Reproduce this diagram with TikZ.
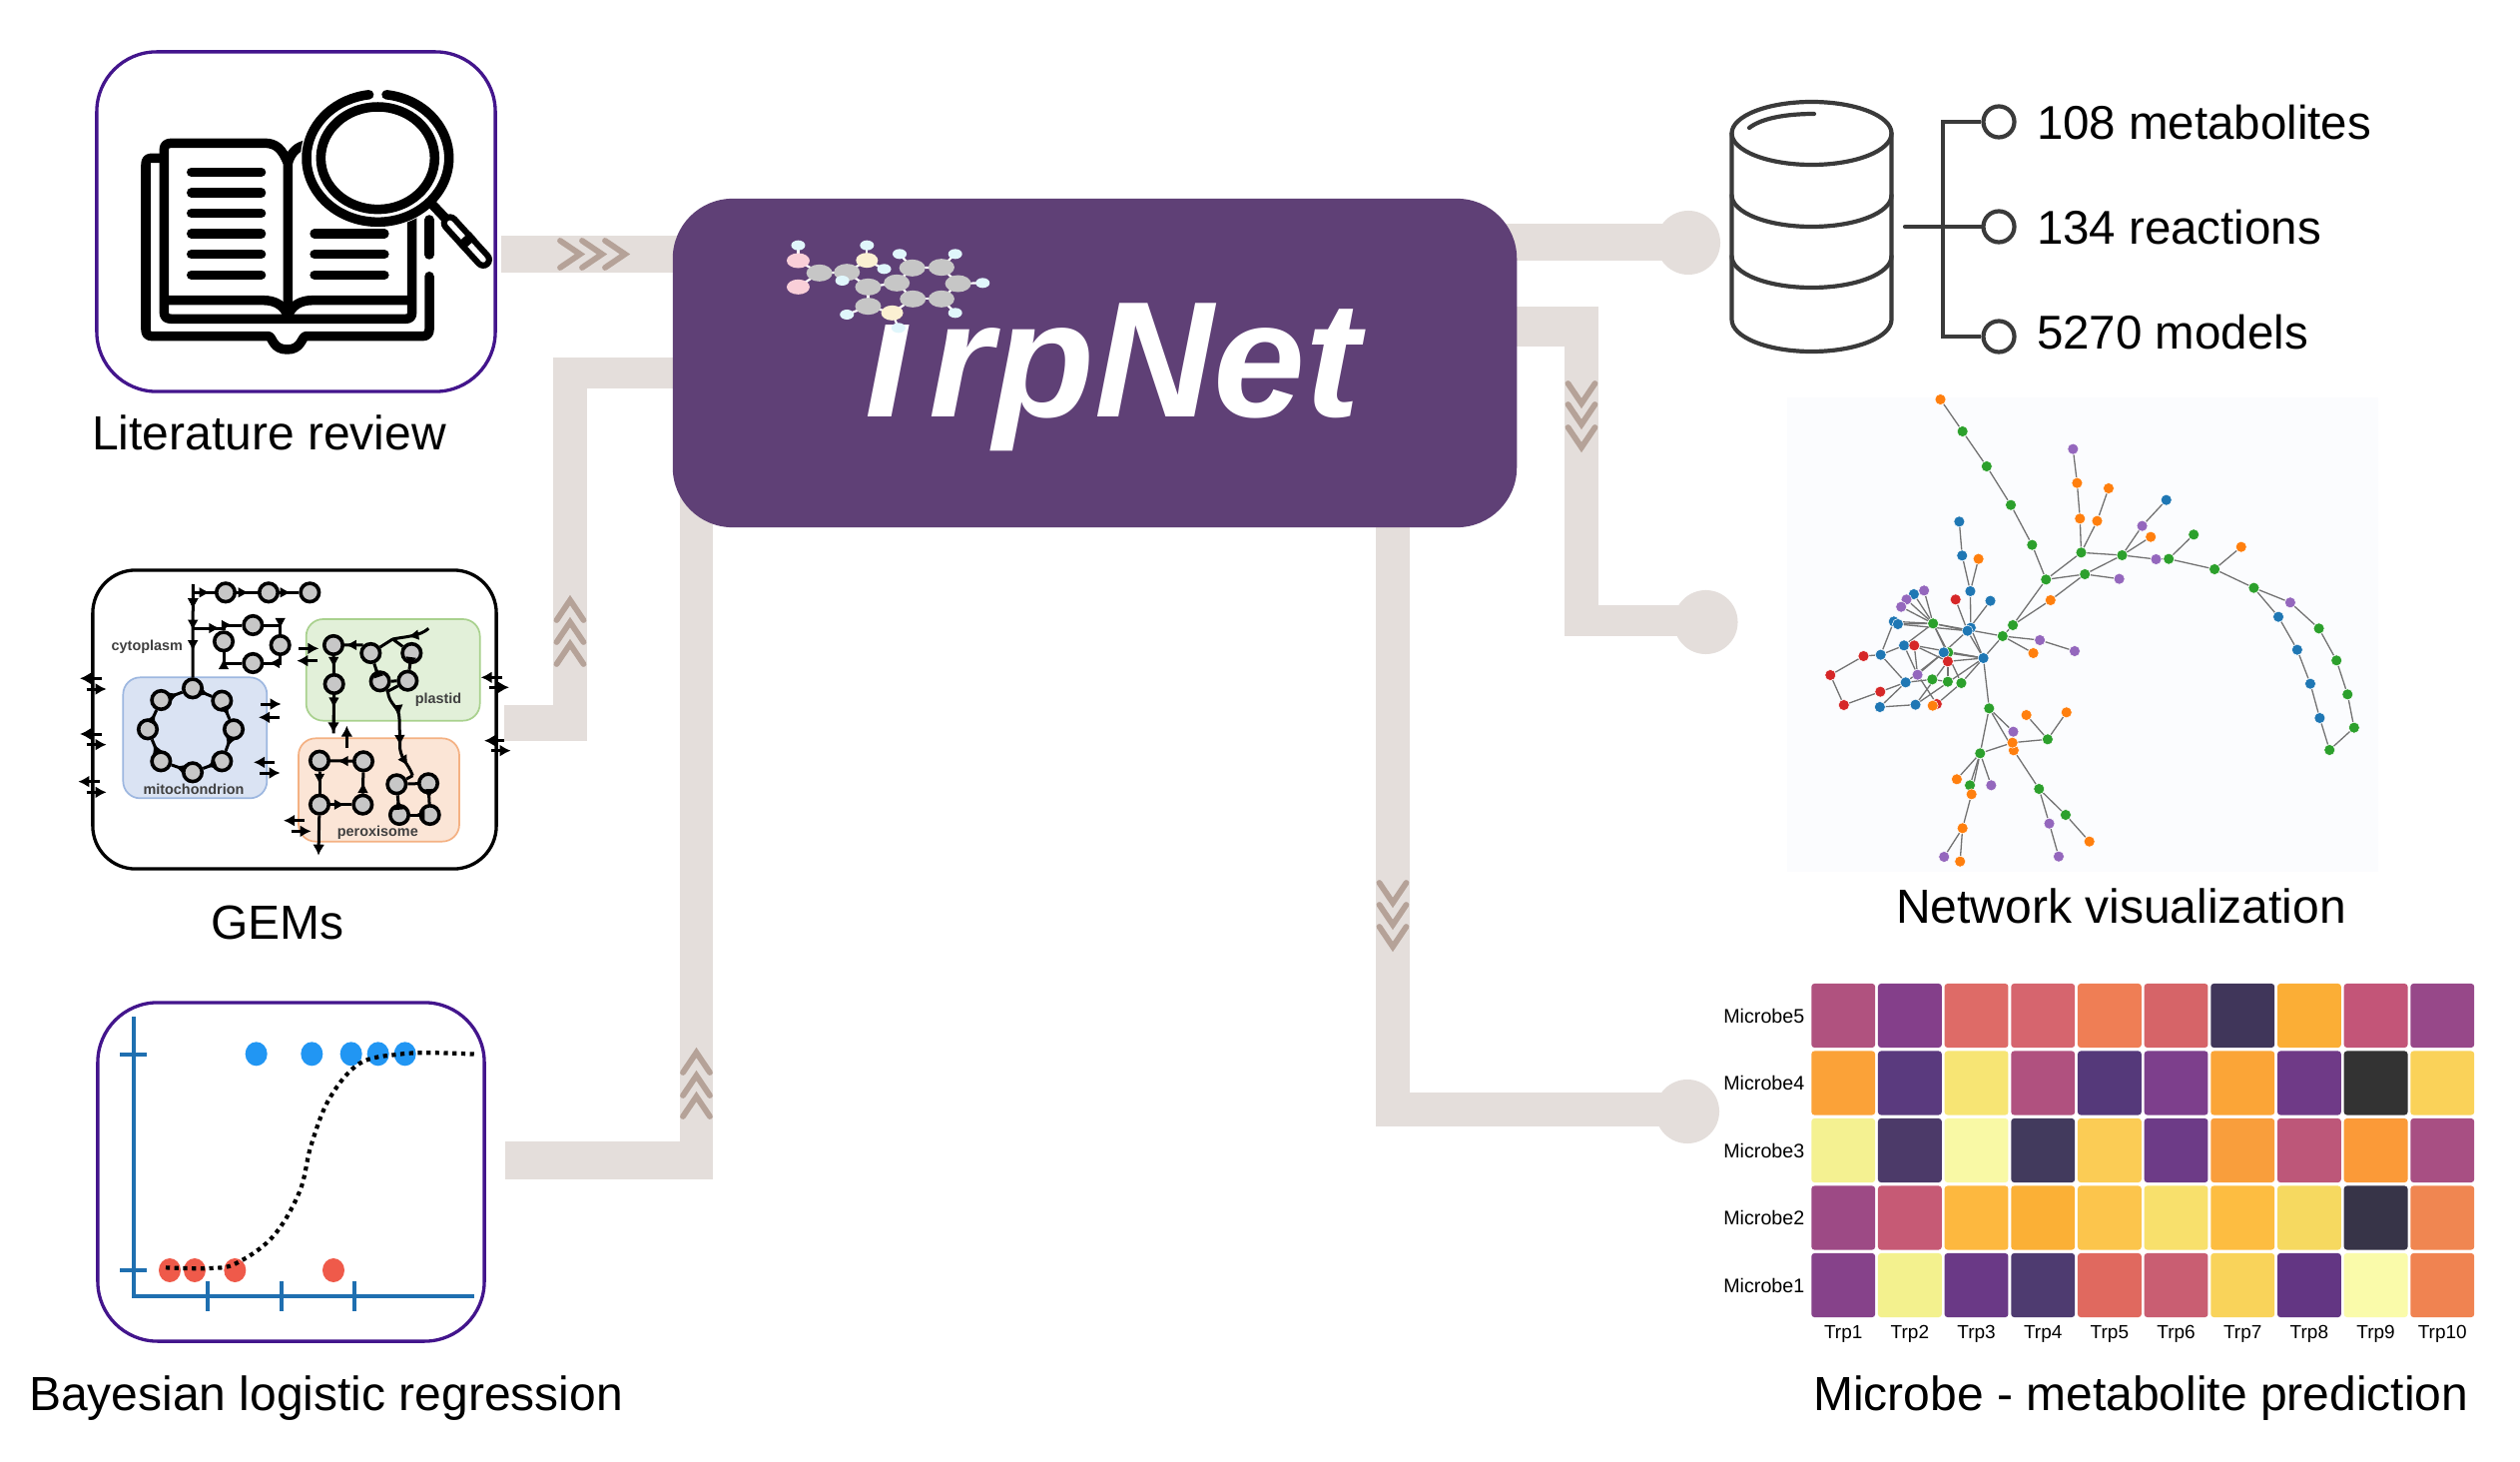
\documentclass[tikz,border=0pt]{standalone}
\usepackage{fontspec}
\setmainfont{Liberation Sans}
\usetikzlibrary{arrows.meta,decorations.markings,backgrounds,shapes.geometric,calc}
\definecolor{conncol}{HTML}{E4DEDB}
\definecolor{chevcol}{HTML}{B5A298}
\definecolor{panelcol}{HTML}{43158C}
\definecolor{maincol}{HTML}{5F4076}
\definecolor{axiscol}{HTML}{1F6FB0}
\definecolor{dotblue}{HTML}{2196F3}
\definecolor{dotred}{HTML}{EF5A4A}
\definecolor{tabb}{HTML}{1F77B4}
\definecolor{tabo}{HTML}{FF7F0E}
\definecolor{tabg}{HTML}{2CA02C}
\definecolor{tabr}{HTML}{D62728}
\definecolor{tabp}{HTML}{9467BD}
\definecolor{dbcol}{HTML}{3A3A3A}
\definecolor{mitofill}{HTML}{DAE3F3}
\definecolor{mitoline}{HTML}{9DB7E0}
\definecolor{plasfill}{HTML}{E2F0D9}
\definecolor{plasline}{HTML}{A9D18E}
\definecolor{perofill}{HTML}{FBE5D6}
\definecolor{peroline}{HTML}{F4B183}
\definecolor{netbg}{HTML}{FBFCFE}
\definecolor{atomg}{HTML}{C6C6C6}
\definecolor{atomo}{HTML}{F9CFD8}
\definecolor{atomn}{HTML}{FBF0D2}
\definecolor{atomh}{HTML}{E0F6FB}
\tikzset{
  panel/.style={draw=panelcol,line width=.33mm,fill=white,rounded corners=.6cm,inner sep=0,outer sep=0},
  lbl/.style={font=\fontsize{13.65}{16}\selectfont,anchor=base west,inner sep=0,outer sep=0,text=black},
  conn/.style={draw=conncol,line cap=butt},
  capnode/.style={circle,fill=conncol,minimum size=.64cm,inner sep=0},
  chev/.style={draw=chevcol,line width=.58mm,line cap=round,miter limit=10},
  bk/.style={draw=black,line width=.95mm,line cap=round,line join=round},
  txtln/.style={draw=black,line width=.93mm,line cap=round},
  metab/.style={circle,draw=black,line width=.36mm,fill=black!22,minimum size=.185cm,inner sep=0},
  flow/.style={draw=black,line width=.3mm},
  midarr/.style={postaction={decorate},decoration={markings,mark=at position #1 with {\arrow{Latex[length=1.1mm,width=1.1mm]}}}},
  xarr/.style={draw=black,line width=.3mm,-{Latex[length=1.1mm,width=1.2mm]}},
  comp/.style={rounded corners=.17cm,line width=.17mm},
  gemlab/.style={font=\fontsize{4.1}{5}\selectfont\bfseries,text=black!75,inner sep=0},
  atomC/.style={ellipse,fill=atomg,minimum width=.26cm,minimum height=.17cm,inner sep=0},
  atomO/.style={ellipse,fill=atomo,minimum width=.23cm,minimum height=.15cm,inner sep=0},
  atomN/.style={ellipse,fill=atomn,minimum width=.22cm,minimum height=.15cm,inner sep=0},
  atomH/.style={ellipse,fill=atomh,minimum width=.14cm,minimum height=.10cm,inner sep=0},
  bond/.style={draw=white,line width=.22mm},
  dbline/.style={draw=dbcol,line width=.42mm,line cap=round},
  ringnode/.style={circle,draw=dbcol,line width=.42mm,fill=white,minimum size=.31cm,inner sep=0},
  netnode/.style={circle,draw=white,line width=.05mm,minimum size=.11cm,inner sep=0},
  netedge/.style={draw=black!55,line width=.13mm},
  cellnode/.style={rounded corners=.03cm,minimum width=.638cm,minimum height=.64cm,inner sep=0},
  hmlab/.style={font=\fontsize{5.6}{7}\selectfont,inner sep=0,text=black},
}
\newcommand{\chevup}[2]{\draw[chev] (#1-13.5,#2+25) -- (#1,#2+5) -- (#1+13.5,#2+25);}
\newcommand{\chevdn}[2]{\draw[chev] (#1-13.5,#2-25) -- (#1,#2-5) -- (#1+13.5,#2-25);}
\newcommand{\chevrt}[2]{\draw[chev] (#1-25,#2-13.5) -- (#1-5,#2) -- (#1-25,#2+13.5);}
\newcommand{\nn}[4]{\node[netnode,fill=#4] (n#1) at (#2,#3) {};}
\begin{document}
\begin{tikzpicture}[x=0.01cm,y=-0.01cm]
\useasboundingbox (0,0) rectangle (2524,1464);
\begin{pgfonlayer}{background}
\fill[white] (0,0) rectangle (2524,1464);
\end{pgfonlayer}

% ---------- main nodes
\node[panel,minimum width=3.99cm,minimum height=3.40cm] (lit) at (296.5,222) {};
\node[panel,draw=black,minimum width=4.04cm,minimum height=2.99cm,rounded corners=.43cm] (gem) at (295,720.5) {};
\node[panel,minimum width=3.87cm,minimum height=3.39cm] (bayes) at (291.5,1173.5) {};
\node[fill=maincol,minimum width=8.45cm,minimum height=3.29cm,rounded corners=.6cm,inner sep=0] (main) at (1096.5,363.5) {};
\node[capnode] (capA) at (1691,243) {};
\node[capnode] (capB) at (1708.5,623) {};
\node[capnode] (capC) at (1690,1113) {};

% ---------- connectors (behind)
\begin{pgfonlayer}{background}
\coordinate (la) at (502,254.5);
\draw[conn,line width=3.7mm] (la) -- (la -| main.center);
\coordinate (ga) at (505,724);
\coordinate (gb) at (588,724);
\coordinate (gc) at (571,742);
\coordinate (gd) at (571,358);
\coordinate (ge) at (554,373.5);
\draw[conn,line width=3.6mm] (ga) -- (gb);
\draw[conn,line width=3.4mm] (gc) -- (gd);
\draw[conn,line width=3.1mm] (ge) -- (ge -| main.center);
\coordinate (ba) at (506,1162);
\coordinate (bb) at (714,1162);
\coordinate (bc) at (697.5,1181);
\draw[conn,line width=3.8mm] (ba) -- (bb);
\draw[conn,line width=3.3mm] (bc) -- (bc |- main.center);
\coordinate (ra) at (1400,242.5);
\draw[conn,line width=3.7mm] (ra) -- (ra -| capA);
\coordinate (rb) at (1400,327);
\coordinate (rc) at (1601,327);
\coordinate (rd) at (1584,307);
\coordinate (re) at (1584,637);
\coordinate (rf) at (1567,621.5);
\draw[conn,line width=4mm] (rb) -- (rc);
\draw[conn,line width=3.4mm] (rd) -- (re);
\draw[conn,line width=3.1mm] (rf) -- (rf -| capB);
\coordinate (ua) at (1395,400);
\coordinate (ub) at (1395,1128);
\coordinate (uc) at (1378,1111);
\draw[conn,line width=3.4mm] (ua) -- (ub);
\draw[conn,line width=3.4mm] (uc) -- (uc -| capC);
\end{pgfonlayer}

% ---------- chevrons
\chevrt{586}{254.5}\chevrt{608}{254.5}\chevrt{631}{254.5}
\chevup{571}{596}\chevup{571}{618}\chevup{571}{640}
\chevup{697.5}{1049}\chevup{697.5}{1072}\chevup{697.5}{1093}
\chevdn{1584}{409}\chevdn{1584}{430}\chevdn{1584}{453}
\chevdn{1395}{909}\chevdn{1395}{931}\chevdn{1395}{953}

% ---------- book icon
\begin{scope}[shift={(60,30)},x=0.01cm/3,y=-0.01cm/3]
\draw[bk] (300,385) -- (275,385) .. controls (263,385) and (258,392) .. (258,405) -- (258,900) .. controls (258,912) and (263,920) .. (278,920) -- (628,920) .. controls (640,925) and (640,960) .. (683,960) .. controls (725,960) and (725,925) .. (738,920) -- (1090,920) .. controls (1103,920) and (1110,912) .. (1110,900) -- (1110,740);
\draw[bk] (1110,570) -- (1110,675);
\draw[bk] (685,860) -- (685,400) .. controls (668,358) and (650,340) .. (615,340) -- (335,340) .. controls (320,340) and (313,347) .. (313,360) -- (313,848) .. controls (313,862) and (320,868) .. (335,868) -- (1038,868) .. controls (1052,868) and (1058,862) .. (1058,848) -- (1058,560);
\draw[bk] (685,400) .. controls (695,365) and (715,350) .. (740,345);
\draw[bk] (322,812) -- (610,812) .. controls (650,812) and (675,830) .. (685,860) .. controls (695,830) and (720,812) .. (760,812) -- (1050,812);
\foreach \yy in {427,489,551,612,674,736} \draw[txtln] (395,\yy) -- (605,\yy);
\foreach \yy in {612,674,736} \draw[txtln] (765,\yy) -- (975,\yy);
% magnifier
\fill[white] (955,385) ellipse [x radius=232,y radius=208];
\draw[bk] (1115,520) -- (1170,578);
\draw[draw=black,line width=1.8mm,line cap=round] (1172,580) -- (1272,690);
\draw[draw=white,line width=.55mm,line cap=round] (1172,580) -- (1272,690);
\draw[draw=black,line width=.95mm] (1202,652) -- (1242,616);
\draw[draw=black,line width=.95mm,line cap=round] (955,385) ++(277:214 and 192) arc[start angle=277,end angle=623,x radius=214,y radius=192];
\draw[draw=black,line width=.95mm] (955,385) ellipse [x radius=171,y radius=154];
\end{scope}

% ---------- GEM panel
\begin{scope}[shift={(60,550)},x=0.01cm/3,y=-0.01cm/3]
\draw[comp,draw=mitoline,fill=mitofill] (190,385) rectangle (622,748);
\draw[comp,draw=plasline,fill=plasfill] (740,210) rectangle (1262,515);
\draw[comp,draw=peroline,fill=perofill] (717,568) rectangle (1200,878);
\foreach \nm/\xx/\yy in {t1/498/130,t2/627/130,t3/751/130,
  u1/580/228,u2/662/288,u3/580/342,u4/492/277,
  m1/399/418,m2/487/455,m3/522/541,m4/487/637,m5/399/670,m6/304/637,m7/264/541,m8/304/453,
  p1/822/288,p2/824/405,q1/934/312,q2/1057/312,q3/1045/395,q4/962/397,
  x1/780/635,x2/912/637,x3/780/767,x4/910/767,
  y1/1012/706,y2/1107/703,y3/1112/798,y4/1020/798}
  \node[metab] (\nm) at (\xx,\yy) {};
\coordinate (s0) at (400,105);
\coordinate (s1) at (400,130);
\coordinate (s2) at (400,237);
\draw[flow,midarr=.27,postaction={midarr=.5},postaction={midarr=.72}] (s0) -- (m1);
\draw[flow,midarr=.8] (s1) -- (t1);
\draw[flow,midarr=.6] (t1) -- (t2);
\draw[flow,midarr=.6] (t2) -- (t3);
\coordinate (s3) at (490,237);
\draw[flow,midarr=.9] (s2) -- (s3);
\draw[flow,midarr=.6] (u4.north) |- (u1);
\draw[flow,midarr=.8] (u1) -| (u2);
\draw[flow,midarr=.8] (u2) |- (u3);
\draw[flow,midarr=.8] (u3) -| (u4);
\foreach \aa/\bb in {m1/m2,m2/m3,m3/m4,m4/m5,m5/m6,m6/m7,m7/m8,m8/m1}
  \draw[flow,midarr=.7] (\aa) -- (\bb);
\draw[flow,midarr=.7] (p1) -- (p2);
\coordinate (p3) at (822,553);
\draw[flow,midarr=.35] (p2) -- (p3);
\draw[xarr] (822,495) -- (p3);
\draw[flow,midarr=.95] (q1.north west) ++(0,-1) -- (p1);
\coordinate (w0) at (1108,238);
\coordinate (w1) at (1000,270);
\draw[flow,midarr=.6] (w0) .. controls (1080,262) and (1040,262) .. (w1);
\draw[flow] (w1) -- (q1);
\draw[flow] (w1) -- (q2);
\draw[flow,midarr=.7] (q2) -- (q3);
\draw[flow] (q3) -- (q4);
\draw[flow,midarr=.6] (q4) -- (q1);
\coordinate (w2) at (985,427);
\coordinate (w3) at (1020,510);
\coordinate (w4) at (1022,600);
\coordinate (w5) at (1060,680);
\draw[flow] (w2) -- (q3);
\draw[flow] (w2) -- (q4);
\draw[flow,midarr=.9] (w2) .. controls (990,470) and (1020,470) .. (w3);
\draw[flow,midarr=.9] (w3) -- (w4);
\draw[flow,midarr=.65] (w4) .. controls (1030,640) and (1045,640) .. (w5);
\draw[flow] (w5) -- (y1);
\draw[flow] (y1) -- (y2);
\draw[flow,midarr=.6] (y2) -- (y3);
\draw[flow,midarr=.6] (y3) -- (y4);
\draw[flow,midarr=.6] (y4) -- (y1);
\draw[flow,midarr=.7] (x2) -- (x1);
\draw[flow,midarr=.6] (x1) -- (x3);
\draw[flow,midarr=.7] (x3) -- (x4);
\draw[flow,midarr=.55] (x4) -- (x2);
\coordinate (x5) at (777,920);
\draw[xarr] (x3) -- (x5);
\draw[xarr] (862,597) -- (862,530);
\foreach \ax/\ay/\bx/\by in {125/388/60/388, 80/420/140/420, 125/555/60/555, 80/587/140/587, 120/698/55/698, 80/730/140/730,
  1330/385/1265/385, 1290/415/1350/415, 1335/575/1275/575, 1295/605/1355/605,
  603/465/665/465, 660/505/597/505, 645/640/582/640, 600/672/662/672,
  718/298/778/298, 775/335/712/335, 735/815/672/815, 695/847/755/847}
  \draw[xarr] (\ax,\ay) -- (\bx,\by);
\node[gemlab] (lcyto) at (262,293) {cytoplasm};
\node[gemlab] (lmito) at (402,722) {mitochondrion};
\node[gemlab] (lplas) at (1137,452) {plastid};
\node[gemlab] (lpero) at (955,850) {peroxisome};
\end{scope}

% ---------- logistic plot
\begin{scope}[shift={(60,990)},x=0.01cm/3,y=-0.01cm/3]
\draw[draw=axiscol,line width=.4mm] (221,85) -- (221,925) -- (1245,925);
\foreach \yy in {197,846} \draw[draw=axiscol,line width=.4mm] (180,\yy) -- (262,\yy);
\foreach \xx in {445,665,885} \draw[draw=axiscol,line width=.4mm] (\xx,880) -- (\xx,970);
\foreach \xx in {590,757,875,956,1037} \fill[dotblue] (\xx,196) ellipse [x radius=33,y radius=36];
\foreach \xx in {330,405,526,822} \fill[dotred] (\xx,846) ellipse [x radius=33,y radius=36];
\draw[black,line width=.42mm,dash pattern=on .42mm off .45mm] plot[smooth,tension=.6] coordinates {(318,838) (450,840) (530,825) (640,745) (720,610) (755,470) (810,330) (900,225) (1020,197) (1130,193) (1250,197)};
\end{scope}

% ---------- main title
\node[font=\fontsize{47}{50}\selectfont\bfseries\itshape,text=white,anchor=base west,inner sep=0] (title) at (839,418) {T\kern-2.8pt rpNet};
\fill[maincol] (835,292) rectangle (965,325);
\begin{scope}[shift={(660,180)},x=0.01cm/1.742,y=-0.01cm/3]
\foreach \aa/\bx/\by/\cx/\cy in {1/280/280/328/278,2/328/278/365/322,3/365/322/415/310,4/415/310/442/265,5/442/265/493/263,6/493/263/522/312,7/522/312/493/358,8/493/358/443/358,9/443/358/415/310,10/365/322/365/380,11/365/380/407/400,12/407/400/443/358,13/280/280/243/243,14/280/280/243/322,15/328/278/363/242,16/243/243/243/197,17/363/242/363/197,18/442/265/420/223,19/493/263/517/223,20/522/312/565/310,21/493/358/517/400,22/365/380/328/405,23/363/242/393/268,24/328/278/320/303,25/407/400/418/445}
  \coordinate (bnd\aa) at (\bx,\by);
\foreach \aa/\bx/\by/\cx/\cy in {1/280/280/328/278,2/328/278/365/322,3/365/322/415/310,4/415/310/442/265,5/442/265/493/263,6/493/263/522/312,7/522/312/493/358,8/493/358/443/358,9/443/358/415/310,10/365/322/365/380,11/365/380/407/400,12/407/400/443/358,13/280/280/243/243,14/280/280/243/322,15/328/278/363/242,16/243/243/243/197,17/363/242/363/197,18/442/265/420/223,19/493/263/517/223,20/522/312/565/310,21/493/358/517/400,22/365/380/328/405,23/363/242/393/268,24/328/278/320/303,25/407/400/418/445}
  \draw[bond] (bnd\aa) -- (\cx,\cy);
\foreach \nm/\xx/\yy in {g1/280/280,g2/328/278,g3/365/322,g4/415/310,g5/442/265,g6/493/263,g7/522/312,g8/493/358,g9/443/358,g10/365/380}
  \node[atomC] (\nm) at (\xx,\yy) {};
\foreach \nm/\xx/\yy in {o1/243/243,o2/243/322} \node[atomO] (\nm) at (\xx,\yy) {};
\foreach \nm/\xx/\yy in {a1/363/242,a2/407/400} \node[atomN] (\nm) at (\xx,\yy) {};
\foreach \nm/\xx/\yy in {h1/243/197,h2/363/197,h3/420/223,h4/517/223,h5/565/310,h6/517/400,h7/328/405,h8/393/268,h9/320/303,h10/418/445}
  \node[atomH] (\nm) at (\xx,\yy) {};
\end{scope}

% ---------- database
\coordinate (dbc) at (1814.5,133.5);
\draw[dbline] (dbc) ellipse [x radius=80,y radius=31.5];
\draw[dbline] (1734.5,133.5) -- (1734.5,320) arc[start angle=180,end angle=0,x radius=80,y radius=32] -- (1894.5,133.5);
\draw[dbline] (1734.5,195.5) arc[start angle=180,end angle=0,x radius=80,y radius=31.5];
\draw[dbline] (1734.5,256.5) arc[start angle=180,end angle=0,x radius=80,y radius=31.5];
\draw[dbline] (1752,128) .. controls (1765,118) and (1790,114) .. (1817,114);
\node[ringnode] (t1) at (2002,122) {};
\node[ringnode] (t2) at (2002,227) {};
\node[ringnode] (t3) at (2002,337) {};
\coordinate (tm) at (1908,227);
\coordinate (tr) at (1946,227);
\draw[dbline] (tm) -- (t2);
\draw[dbline,line cap=butt] (t1) -- (t1 -| tr) -- (t3 -| tr) -- (t3);
\node[lbl,font=\fontsize{13.5}{16}\selectfont] (tx1) at (2040,139.5) {108 metabolites};
\node[lbl,font=\fontsize{13.5}{16}\selectfont] (tx2) at (2040,245) {134 reactions};
\node[lbl,font=\fontsize{13.5}{16}\selectfont] (tx3) at (2040,350) {5270 models};

% ---------- network
\begin{pgfonlayer}{background}
\fill[netbg] (1790,398) rectangle (2382,873);
\end{pgfonlayer}
\begin{scope}[shift={(1780,390)},x=0.01cm/2.44,y=-0.01cm/3]
\nn{a1}{399}{30}{tabo}\nn{a2}{453}{126}{tabg}\nn{a3}{512}{231}{tabg}\nn{a4}{571}{347}{tabg}\nn{a5}{623}{467}{tabg}\nn{a6}{657}{571}{tabg}
\nn{b1}{743}{490}{tabg}\nn{b2}{752}{555}{tabg}\nn{b3}{576}{708}{tabg}\nn{b4}{843}{498}{tabg}\nn{b5}{668}{633}{tabo}\nn{b6}{836}{569}{tabp}
\nn{c1}{740}{388}{tabo}\nn{c2}{733}{281}{tabo}\nn{c3}{723}{179}{tabp}\nn{c4}{782}{395}{tabo}\nn{c5}{810}{297}{tabo}
\nn{d1}{892}{410}{tabp}\nn{d0}{951}{332}{tabb}\nn{d5}{913}{443}{tabo}\nn{d6}{926}{510}{tabp}\nn{d2}{957}{509}{tabg}\nn{d7}{1018}{436}{tabg}\nn{d3}{1069}{540}{tabg}\nn{d8}{1134}{473}{tabo}\nn{d4}{1165}{596}{tabg}
\nn{r1}{1225}{683}{tabb}\nn{r2}{1271}{782}{tabb}\nn{r3}{1303}{884}{tabb}\nn{r4}{1326}{987}{tabb}\nn{r5}{1350}{1083}{tabg}
\nn{s1}{1254}{640}{tabp}\nn{s2}{1324}{718}{tabg}\nn{s3}{1367}{814}{tabg}\nn{s4}{1394}{916}{tabg}\nn{s5}{1410}{1016}{tabg}
\nn{e1}{551}{741}{tabg}\nn{e3}{642}{753}{tabp}\nn{e4}{727}{786}{tabp}\nn{e5}{626}{792}{tabo}\nn{e2}{504}{807}{tabb}
\nn{h1}{472}{606}{tabb}\nn{h2}{452}{499}{tabb}\nn{h3}{445}{397}{tabb}\nn{h4}{492}{509}{tabo}\nn{h5}{473}{716}{tabb}\nn{h6}{465}{725}{tabb}\nn{h7}{521}{635}{tabb}\nn{h8}{436}{631}{tabr}
\nn{k0}{381}{703}{tabg}\nn{k1}{359}{604}{tabp}\nn{k2}{334}{615}{tabb}\nn{k3}{316}{631}{tabp}\nn{k4}{303}{653}{tabp}\nn{k5}{285}{697}{tabb}\nn{k6}{295}{705}{tabb}
\nn{l1}{253}{797}{tabb}\nn{l2}{310}{769}{tabb}\nn{l3}{335}{769}{tabr}\nn{l4}{418}{790}{tabg}\nn{l5}{407}{790}{tabb}\nn{l6}{417}{817}{tabr}\nn{l7}{343}{857}{tabp}\nn{l8}{314}{880}{tabb}\nn{l9}{379}{871}{tabg}\nn{l10}{417}{878}{tabg}\nn{l11}{450}{882}{tabg}\nn{l12}{252}{908}{tabr}\nn{l13}{211}{801}{tabr}\nn{l14}{130}{858}{tabr}\nn{l15}{163}{948}{tabr}\nn{l16}{251}{954}{tabb}\nn{l17}{338}{947}{tabb}\nn{l18}{390}{945}{tabr}\nn{l19}{380}{950}{tabo}
\nn{f1}{518}{958}{tabg}\nn{f2}{578}{1084}{tabo}\nn{f3}{496}{1093}{tabg}\nn{f5}{577}{1028}{tabp}\nn{f4}{640}{1200}{tabg}\nn{f6}{705}{1278}{tabg}\nn{f7}{763}{1358}{tabo}\nn{f8}{665}{1304}{tabp}\nn{f9}{688}{1403}{tabp}\nn{f10}{575}{1061}{tabo}\nn{f11}{661}{1051}{tabg}\nn{f12}{609}{978}{tabo}\nn{f13}{707}{970}{tabo}\nn{f14}{439}{1171}{tabo}\nn{f15}{471}{1189}{tabg}\nn{f16}{523}{1189}{tabp}\nn{f17}{475}{1216}{tabo}\nn{f18}{453}{1318}{tabo}\nn{f19}{408}{1404}{tabp}\nn{f20}{447}{1418}{tabo}
\begin{pgfonlayer}{background}
\foreach \aa/\bb in {a1/a2,a2/a3,a3/a4,a4/a5,a5/a6,a6/b1,a6/b2,a6/b3,b1/b4,b2/b4,b2/b6,b2/b5,b5/b3,b1/c1,c1/c2,c2/c3,b1/c4,c4/c5,b4/d1,d1/d0,b4/d5,b4/d6,d6/d2,d2/d7,d2/d3,d3/d8,d3/d4,d4/r1,r1/r2,r2/r3,r3/r4,r4/r5,d4/s1,s1/s2,s2/s3,s3/s4,s4/s5,s5/r5,b3/e1,e1/e3,e3/e4,e1/e5,e1/e2,e2/f1,e2/h5,e2/h6,h1/h5,h1/h2,h2/h3,h1/h4,h7/h6,h8/h6,k0/k1,k0/k2,k0/k3,k0/k4,k0/k5,k0/k6,k0/e1,k0/h6,k5/l1,l1/l2,l1/l13,l13/l14,l14/l15,l15/l12,l12/l8,l1/l8,l8/l16,l16/l17,l8/l9,l9/l10,l2/l7,l3/l7,l3/l6,l3/e2,l7/l18,l7/l5,l5/h6,l5/e2,l6/e2,l6/l10,l6/l17,k0/l4,k0/l11,l11/l18,l11/e2,e2/l17,k6/h6,l4/e2,l8/l5,l2/k0,f1/f5,f1/f2,f1/f3,f2/f4,f4/f6,f6/f7,f4/f8,f8/f9,f3/f10,f10/f11,f11/f12,f11/f13,f3/f14,f3/f15,f3/f16,f3/f17,f17/f18,f18/f19,f18/f20}
  \draw[netedge] (n\aa) -- (n\bb);
\end{pgfonlayer}
\end{scope}

% ---------- heatmap
\foreach \rr/\rowlist in {0/{B0527F,843F8A,DE6B67,D6656E,EF7E55,D66468,40365A,FBAE36,C35578,974889},
  1/{FBA238,5A3A7E,F7E574,B0517F,55397A,7D3F8C,FBA537,6F3A87,333333,FAD259},
  2/{F4F191,4C3A69,F9F9A5,423A5D,FBCC55,6D3B87,F99E3C,BD5779,FB9A38,A84F83},
  3/{9D4A85,C65A75,FDB83F,FBB036,FCC54C,F8E06C,FDBD41,F6D960,373448,F08651},
  4/{86428A,F3F18E,6A3986,4E3B70,E0695F,C95E72,F9D35A,633683,FAFBAA,F08351}}{
  \foreach \cc [count=\ci from 0] in \rowlist {
    \definecolor{cellcol}{HTML}{\cc}
    \pgfmathsetmacro{\cx}{1846.2+66.67*\ci}
    \pgfmathsetmacro{\cy}{1017+67.5*\rr}
    \node[cellnode,fill=cellcol] (cell-\rr-\ci) at (\cx,\cy) {};
  }
}
\foreach \rr/\mm in {0/5,1/4,2/3,3/2,4/1}{
  \pgfmathsetmacro{\cy}{1017+67.5*\rr}
  \node[hmlab,anchor=east] (mic\mm) at (1808,\cy) {Microbe\mm};
}
\foreach \ci [count=\cj from 1] in {0,...,9}{
  \pgfmathsetmacro{\cx}{1846.2+66.67*\ci}
  \node[hmlab,anchor=base,font=\fontsize{5.4}{7}\selectfont] (trp\cj) at (\cx,1340) {Trp\cj};
}

% ---------- labels
\node[lbl] (l1txt) at (92,451) {Literature review};
\node[lbl,anchor=base] (l2txt) at (278,940) {GEMs};
\node[lbl] (l3txt) at (29,1412) {Bayesian logistic regression};
\node[lbl] (l4txt) at (1899,924) {Network visualization};
\node[lbl] (l5txt) at (1816,1412) {Microbe - metabolite prediction};
\end{tikzpicture}
\end{document}
